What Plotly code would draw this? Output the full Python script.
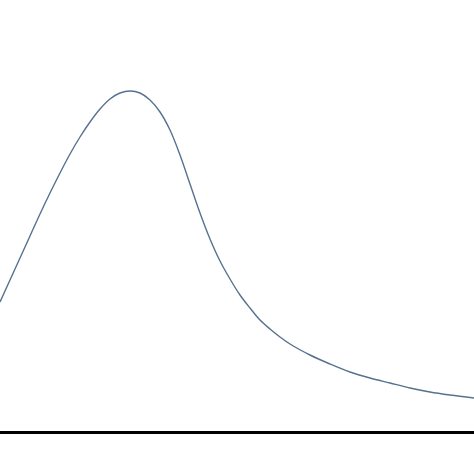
import plotly.graph_objects as go

# curve (x position, height above the axis)
x_vals = [0, 10, 20, 30, 40, 50, 60, 70, 80, 90, 100, 110, 120, 130, 140, 150, 160,
          170, 180, 190, 200, 210, 220, 230, 240, 250, 260, 270, 280, 290, 310, 330,
          350, 370, 390, 410, 430, 450, 474]
y_vals = [130, 152, 174, 196, 218, 239, 259, 278, 295, 310, 323, 333, 339, 341, 339,
          332, 320, 302, 277, 248, 219, 193, 171, 153, 137, 124, 112, 103, 95, 88,
          77, 68, 60, 54, 49, 44, 40, 37, 34]

fig = go.Figure()
fig.add_trace(go.Scatter(x=x_vals, y=y_vals, mode='lines',
                         line=dict(color='#56728f', width=1.4, shape='spline'),
                         hoverinfo='skip'))

fig.update_layout(
    width=474, height=474,
    margin=dict(l=0, r=0, t=0, b=0),
    paper_bgcolor='white', plot_bgcolor='white',
    showlegend=False,
    xaxis=dict(range=[0, 474], visible=False),
    yaxis=dict(range=[-42, 432], showgrid=False, showticklabels=False,
               zeroline=True, zerolinecolor='black', zerolinewidth=3),
)

# page has a default body margin; drop it so the plot fills the window
fig.write_html("out.html", config={'displayModeBar': False},
               post_script="document.body.style.margin='0';document.body.style.overflow='hidden';")
